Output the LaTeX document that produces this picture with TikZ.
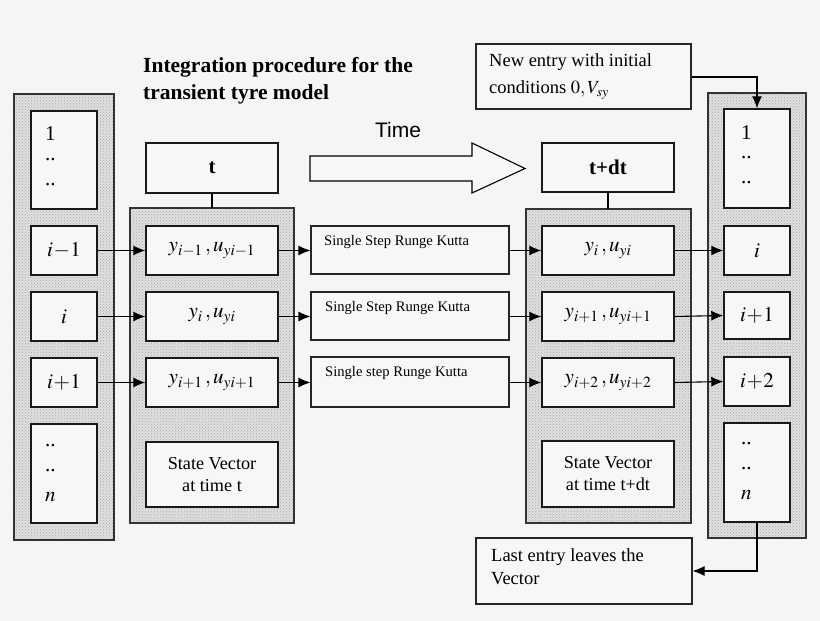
\documentclass[tikz,border=0pt]{standalone}
\usepackage{mathptmx}
\usepackage{fontspec}
\setmainfont{Liberation Serif}
\newfontfamily\timesans{Liberation Sans}
\usetikzlibrary{arrows.meta,patterns}
\begin{document}
\begin{tikzpicture}[x=1pt,y=-1pt,
  panel/.style={draw=black!80,line width=1.3pt,preaction={fill=white!88!black},pattern=crosshatch dots,pattern color=black!35},
  cell/.style={draw=black!90,line width=1.4pt,fill=white!97!black,inner sep=0pt},
  plain/.style={draw=black!85,line width=1.1pt,fill=white!97!black,inner sep=0pt},
  conn/.style={line width=1.1pt,-{Latex[length=12pt,width=10pt]}},
  lbl/.style={inner sep=0pt,font=\fontsize{18.5}{22}\selectfont},
  mlbl/.style={inner sep=0pt,font=\fontsize{21}{24}\selectfont},
  rk/.style={inner sep=0pt,anchor=north west,font=\fontsize{14.6}{17}\selectfont}]
\path[fill=white!96!black] (0,0) rectangle (820,621);
\useasboundingbox (0,0) rectangle (820,621);
% title
\node[anchor=west,inner sep=0pt,align=left,font=\bfseries\fontsize{21.5}{27}\selectfont] (title) at (143,81) {Integration procedure for the\\transient tyre model};
% left outer panel
\draw[panel] (14,94) rectangle (114,540);
\node[cell,minimum width=66pt,minimum height=98pt] (L1) at (64,160) {};
\node[mlbl,anchor=west] (L1a) at (45,134) {1};
\node[mlbl,anchor=west] (L1b) at (45,160) {..};
\node[mlbl,anchor=west] (L1c) at (45,185) {..};
\node[cell,minimum width=66pt,minimum height=49pt,mlbl] (Lim) at (64,250.5) {$i\!-\!1$};
\node[cell,minimum width=66pt,minimum height=49pt,mlbl] (Li) at (64,316.5) {$i$};
\node[cell,minimum width=66pt,minimum height=49pt,mlbl] (Lip) at (64,382.5) {$i\!+\!1$};
\node[cell,minimum width=66pt,minimum height=99pt] (Ln) at (64,473.5) {};
\node[mlbl,anchor=west] (Lna) at (45,446) {..};
\node[mlbl,anchor=west] (Lnb) at (45,471) {..};
\node[mlbl,anchor=west] (Lnc) at (45,497) {$n$};
% middle-left panel
\node[cell,minimum width=132pt,minimum height=50pt,font=\bfseries\fontsize{21}{24}\selectfont] (T) at (212,168) {t};
\draw[panel] (130,208) rectangle (294,523);
\draw[line width=1.1pt] (T.south) -- (212,208);
\node[cell,minimum width=132pt,minimum height=49pt,mlbl] (A1) at (212,250.5) {$y_{i-1}\,,u_{yi-1}$};
\node[cell,minimum width=132pt,minimum height=49pt,mlbl] (A2) at (212,316.5) {$y_{i}\,,u_{yi}$};
\node[cell,minimum width=132pt,minimum height=49pt,mlbl] (A3) at (212,382.5) {$y_{i+1}\,,u_{yi+1}$};
\node[cell,minimum width=132pt,minimum height=65pt,align=center,font=\fontsize{18.2}{22}\selectfont] (SV1) at (212,474.5) {State Vector\\at time t};
% Runge Kutta
\node[plain,minimum width=198pt,minimum height=48pt] (RK1) at (410,250) {};
\node[plain,minimum width=198pt,minimum height=48pt] (RK2) at (410,316) {};
\node[plain,minimum width=198pt,minimum height=50pt] (RK3) at (410,382) {};
\node[rk] (RK1t) at (324,235) {Single Step Runge Kutta};
\node[rk] (RK2t) at (325,301) {Single Step Runge Kutta};
\node[rk] (RK3t) at (325,366) {Single step Runge Kutta};
% time arrow
\draw[line width=1.1pt,fill=white!97!black] (310,156) -- (472,156) -- (472,143) -- (525,168.5) -- (472,193) -- (472,181) -- (310,181) -- cycle;
\node[inner sep=0pt,font=\timesans\fontsize{21}{24}\selectfont] (time) at (398,130) {Time};
% middle-right panel
\node[cell,minimum width=132pt,minimum height=49pt,font=\bfseries\fontsize{21}{24}\selectfont] (TD) at (608,167.5) {t+dt};
\draw[panel] (526,209) rectangle (691,523);
\draw[line width=1.1pt] (TD.south) -- (608,209);
\node[cell,minimum width=132pt,minimum height=49pt,mlbl] (B1) at (608,250.5) {$y_{i}\,,u_{yi}$};
\node[cell,minimum width=132pt,minimum height=49pt,mlbl] (B2) at (608,316.5) {$y_{i+1}\,,u_{yi+1}$};
\node[cell,minimum width=132pt,minimum height=49pt,mlbl] (B3) at (608,382.5) {$y_{i+2}\,,u_{yi+2}$};
\node[cell,minimum width=132pt,minimum height=66pt,align=center,font=\fontsize{18.2}{22}\selectfont] (SV2) at (608,474) {State Vector\\at time t+dt};
% right outer panel
\draw[panel] (708,93) rectangle (806,538);
\node[cell,minimum width=66pt,minimum height=99pt] (R1) at (757,158.5) {};
\node[mlbl,anchor=west] (R1a) at (741,133) {1};
\node[mlbl,anchor=west] (R1b) at (741,158) {..};
\node[mlbl,anchor=west] (R1c) at (741,183) {..};
\node[cell,minimum width=66pt,minimum height=49pt,mlbl] (Ri) at (757,250.5) {$i$};
\node[cell,minimum width=66pt,minimum height=47pt,mlbl] (Rip) at (757,315.5) {$i\!+\!1$};
\node[cell,minimum width=66pt,minimum height=49pt,mlbl] (Ripp) at (757,381.5) {$i\!+\!2$};
\node[cell,minimum width=66pt,minimum height=99pt] (Rn) at (757,472.5) {};
\node[mlbl,anchor=west] (Rna) at (741,444) {..};
\node[mlbl,anchor=west] (Rnb) at (741,469) {..};
\node[mlbl,anchor=west] (Rnc) at (741,495) {$n$};
% new entry / last entry
\node[plain,minimum width=215pt,minimum height=65pt] (NE) at (583.5,76.5) {};
\node[lbl,anchor=west] (NEa) at (489,62) {New entry with initial};
\node[lbl,anchor=west] (NEb) at (489,90) {conditions $0,V_{sy}$};
\node[plain,minimum width=216pt,minimum height=66pt] (LE) at (584,571) {};
\node[lbl,anchor=west] (LEa) at (491,557) {Last entry leaves the};
\node[lbl,anchor=west] (LEb) at (491,579) {Vector};
% connectors
\draw[conn] (Lim.east) -- (A1.west);
\draw[conn] (Li.east) -- (A2.west);
\draw[conn] (Lip.east) -- (A3.west);
\draw[conn] (A1.east) -- (A1.east -| RK1.west);
\draw[conn] (A2.east) -- (A2.east -| RK2.west);
\draw[conn] (A3.east) -- (A3.east -| RK3.west);
\draw[conn] (B1.west -| RK1.east) -- (B1.west);
\draw[conn] (B2.west -| RK2.east) -- (B2.west);
\draw[conn] (B3.west -| RK3.east) -- (B3.west);
\draw[conn] (B1.east) -- (Ri.west);
\draw[conn] (B2.east) -- (Rip.west);
\draw[conn] (B3.east) -- (Ripp.west);
\draw[conn] (NE.east |- 0,77) -| (R1.north);
\draw[conn] (Rn.south) |- (LE.east);
\end{tikzpicture}
\end{document}
